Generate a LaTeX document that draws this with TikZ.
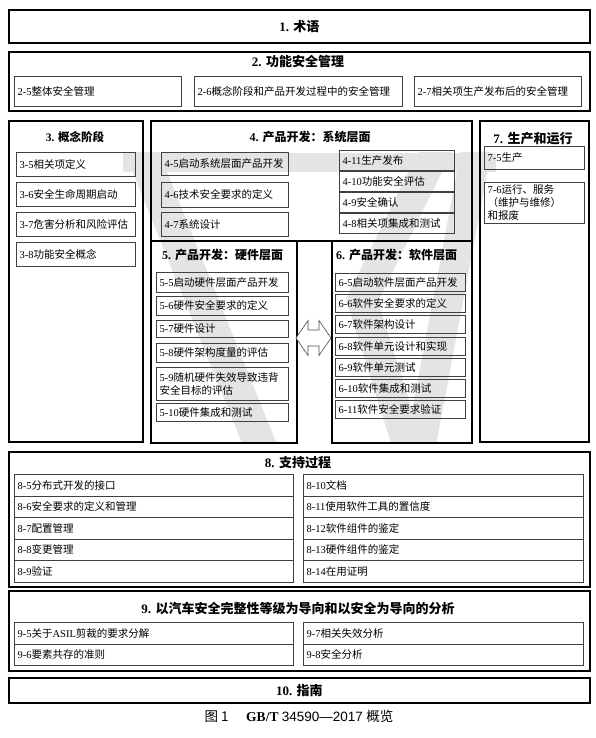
\documentclass[tikz,border=0pt]{standalone}
\usepackage{fontspec}
\setmainfont{Liberation Serif}
\setsansfont{Liberation Sans}
\newfontfamily\cjk{Noto Sans CJK SC}
\newcommand\cj[1]{{\cjk #1}}
\tikzset{
  frame/.style 2 args={draw, line width=1.6pt, anchor=north west, inner sep=0pt, minimum width=#1, minimum height=#2},
  item/.style 2 args={draw=black!75, line width=0.6pt, anchor=north west, inner xsep=3pt, inner ysep=0pt, minimum width=#1, minimum height=#2, text width=#1-6.6pt, align=left, font=\fontsize{10.5}{13}\selectfont},
  head/.style={inner sep=0pt, font=\fontsize{13}{15}\selectfont\bfseries},
  subhead/.style={inner sep=0pt, font=\fontsize{12}{14}\selectfont\bfseries},
  wmark/.style={gray!21},
}
\begin{document}
\begin{tikzpicture}[x=1pt, y=-1pt]
\useasboundingbox (0,0) rectangle (596,738);

\fill[wmark] (123,153) rectangle (496,172);
\begin{scope}
  \clip (0,153) rectangle (596,441);
  \draw[wmark, line width=32pt] (129,120) -- (266,460);
  \draw[wmark, line width=30pt, line join=miter] (451,120) -- (362,300) -- (412,460);
  \draw[wmark, line width=30pt] (480,130) -- (418,460);
\end{scope}

\node[frame={581}{33}, head] (s1) at (8,9) {1. \cj{术语}};

\node[frame={581}{59}] (s2) at (8,51) {};
\node[head] (t2) at (298,62) {2. \cj{功能安全管理}};
\node[item={167}{30}] (i25) at (14,76) {2-5\cj{整体安全管理}};
\node[item={208}{30}] (i26) at (194,76) {2-6\cj{概念阶段和产品开发过程中的安全管理}};
\node[item={167}{30}] (i27) at (414,76) {2-7\cj{相关项生产发布后的安全管理}};

\node[frame={134}{321}] (s3) at (8,120) {};
\node[head, font=\fontsize{11.5}{14}\selectfont\bfseries] (t3) at (75,137) {3. \cj{概念阶段}};
\node[item={119}{24}] (i35) at (16,152) {3-5\cj{相关项定义}};
\node[item={119}{24}] (i36) at (16,182) {3-6\cj{安全生命周期启动}};
\node[item={119}{24}] (i37) at (16,212) {3-7\cj{危害分析和风险评估}};
\node[item={119}{24}] (i38) at (16,242) {3-8\cj{功能安全概念}};

\node[frame={321}{120}] (s4) at (150,120) {};
\node[subhead] (t4) at (310,137) {4. \cj{产品开发：系统层面}};
\node[item={127}{23}] (i45) at (161,152) {4-5\cj{启动系统层面产品开发}};
\node[item={127}{25}] (i46) at (161,182) {4-6\cj{技术安全要求的定义}};
\node[item={127}{24}] (i47) at (161,212) {4-7\cj{系统设计}};
\node[item={115}{20}] (i411) at (339,150) {4-11\cj{生产发布}};
\node[item={115}{20}] (i410) at (339,171) {4-10\cj{功能安全评估}};
\node[item={115}{20}] (i49) at (339,192) {4-9\cj{安全确认}};
\node[item={115}{20}] (i48) at (339,213) {4-8\cj{相关项集成和测试}};

\node[frame={146}{202}] (s5) at (150,240) {};
\node[subhead, anchor=west] (t5) at (162,255) {5. \cj{产品开发：硬件层面}};
\node[item={132}{20}] (i55) at (156,272) {5-5\cj{启动硬件层面产品开发}};
\node[item={132}{18.5}] (i56) at (156,296) {5-6\cj{硬件安全要求的定义}};
\node[item={132}{17.5}] (i57) at (156,319.5) {5-7\cj{硬件设计}};
\node[item={132}{19}] (i58) at (156,343) {5-8\cj{硬件架构度量的评估}};
\node[item={132}{33}] (i59) at (156,367) {5-9\cj{随机硬件失效导致违背}\\\cj{安全目标的评估}};
\node[item={132}{17.5}] (i510) at (156,403) {5-10\cj{硬件集成和测试}};

\node[frame={140}{202}] (s6) at (331,240) {};
\node[subhead, anchor=west] (t6) at (336,255) {6. \cj{产品开发：软件层面}};
\node[item={130}{18}] (i65) at (335,273) {6-5\cj{启动软件层面产品开发}};
\node[item={130}{18}] (i66) at (335,294) {6-6\cj{软件安全要求的定义}};
\node[item={130}{18}] (i67) at (335,315) {6-7\cj{软件架构设计}};
\node[item={130}{18}] (i68) at (335,337) {6-8\cj{软件单元设计和实现}};
\node[item={130}{18}] (i69) at (335,358) {6-9\cj{软件单元测试}};
\node[item={130}{18}] (i610) at (335,379) {6-10\cj{软件集成和测试}};
\node[item={130}{18}] (i611) at (335,400) {6-11\cj{软件安全要求验证}};

\begin{scope}[shift={(313.5,338)}]
  \draw[black!70, line width=0.6pt, fill=white] (-17.5,0) -- (-5.5,-17.5) -- (-5.5,-8) -- (5.5,-8) -- (5.5,-17.5) -- (17.5,0) -- (5.5,17.5) -- (5.5,8) -- (-5.5,8) -- (-5.5,17.5) -- cycle;
\end{scope}

\node[frame={109}{321}] (s7) at (479,120) {};
\node[head] (t7) at (533,139) {7. \cj{生产和运行}};
\node[item={100}{23}] (i75) at (484,146) {7-5\cj{生产}};
\node[item={100}{41}] (i76) at (484,182) {7-6\cj{运行、服务}\\\cj{（维护与维修）}\\\cj{和报废}};

\node[frame={581}{135}] (s8) at (8,451) {};
\node[head] (t8) at (298,463) {8. \cj{支持过程}};
\node[item={279}{21.5}] (i85) at (14,474) {8-5\cj{分布式开发的接口}};
\node[item={279}{21.5}] (i86) at (14,495.5) {8-6\cj{安全要求的定义和管理}};
\node[item={279}{21.5}] (i87) at (14,517) {8-7\cj{配置管理}};
\node[item={279}{21.5}] (i88) at (14,538.5) {8-8\cj{变更管理}};
\node[item={279}{21.5}] (i89) at (14,560) {8-9\cj{验证}};
\node[item={280}{21.5}] (i810) at (303,474) {8-10\cj{文档}};
\node[item={280}{21.5}] (i811) at (303,495.5) {8-11\cj{使用软件工具的置信度}};
\node[item={280}{21.5}] (i812) at (303,517) {8-12\cj{软件组件的鉴定}};
\node[item={280}{21.5}] (i813) at (303,538.5) {8-13\cj{硬件组件的鉴定}};
\node[item={280}{21.5}] (i814) at (303,560) {8-14\cj{在用证明}};

\node[frame={581}{80}] (s9) at (8,590) {};
\node[head] (t9) at (298,609) {9. \cj{以汽车安全完整性等级为导向和以安全为导向的分析}};
\node[item={279}{21.5}] (i95) at (14,622) {9-5\cj{关于}ASIL\cj{剪裁的要求分解}};
\node[item={279}{21.5}] (i96) at (14,643.5) {9-6\cj{要素共存的准则}};
\node[item={280}{21.5}] (i97) at (303,622) {9-7\cj{相关失效分析}};
\node[item={280}{21.5}] (i98) at (303,643.5) {9-8\cj{安全分析}};

\node[frame={581}{25}, head] (s10) at (8,677) {10. \cj{指南}};

\node[inner sep=0pt, font=\fontsize{13.5}{16}\selectfont] (cap) at (299,716) {\cj{图 1}\hspace{1.3em}\textbf{GB/T}~{\sffamily 34590—2017}~\cj{概览}};
\end{tikzpicture}
\end{document}
